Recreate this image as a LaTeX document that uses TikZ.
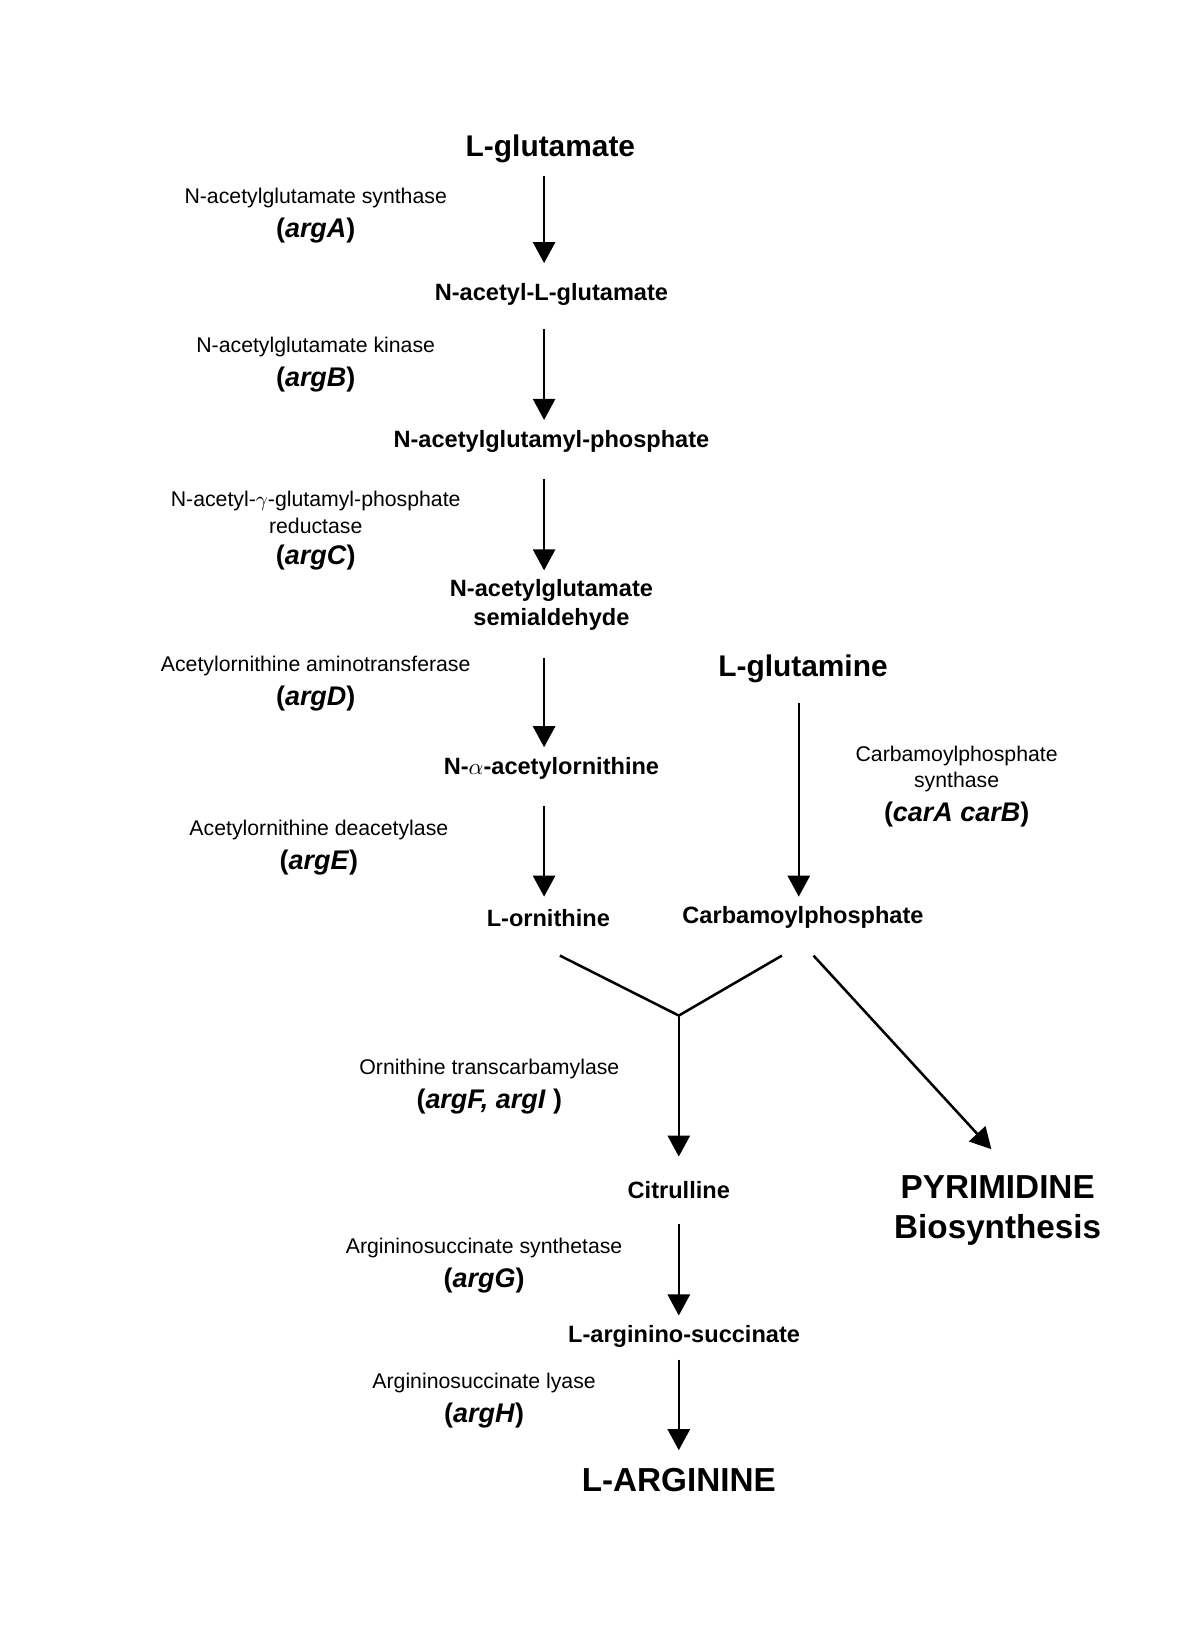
\documentclass[tikz,border=0pt]{standalone}
\usepackage{fontspec}
\setmainfont{Liberation Sans}
\usetikzlibrary{arrows.meta}
\begin{document}
\begin{tikzpicture}[x=0.5pt,y=-0.5pt,
  big/.style={font=\fontsize{14.2}{17}\selectfont\bfseries},
  mid/.style={font=\fontsize{11.2}{14}\selectfont\bfseries,align=center},
  enz/.style={font=\fontsize{10.1}{12.5}\selectfont,align=center},
  gene/.style={font=\fontsize{12.8}{14}\selectfont\bfseries},
  huge/.style={font=\fontsize{15.8}{19}\selectfont\bfseries,align=center},
  rx/.style={line width=1.2pt,-{Triangle[length=10pt,width=10.5pt]}},
  ln/.style={line width=1.2pt}]
\useasboundingbox (0,0) rectangle (1140,1565);
\node[big] (glu) at (523,141) {L-glutamate};
\node[mid] (nag) at (524,280) {N-acetyl-L-glutamate};
\node[mid] (nagp) at (524,419) {N-acetylglutamyl-phosphate};
\node[mid] (nags) at (524,575) {N-acetylglutamate\\semialdehyde};
\node[mid] (nao) at (524,730) {N-$\alpha$-acetylornithine};
\node[mid] (orn) at (521,872) {L-ornithine};
\node[big] (gln) at (763,636) {L-glutamine};
\node[mid] (cp) at (763,872) {Carbamoylphosphate};
\node[mid] (cit) at (645,1131) {Citrulline};
\node[mid] (as) at (650,1270) {L-arginino-succinate};
\node[huge] (arg) at (645,1406) {L-ARGININE};
\node[huge] (pyr) at (948,1150) {PYRIMIDINE\\Biosynthesis};

\node[enz] (e1) at (300,188) {N-acetylglutamate synthase};
\node[gene] (g1) at (300,219) {(\textit{argA})};
\node[enz] (e2) at (300,330) {N-acetylglutamate kinase};
\node[gene] (g2) at (300,361) {(\textit{argB})};
\node[enz] (e3) at (300,487) {N-acetyl-$\gamma$-glutamyl-phosphate\\reductase};
\node[gene] (g3) at (300,530) {(\textit{argC})};
\node[enz] (e4) at (300,633) {Acetylornithine aminotransferase};
\node[gene] (g4) at (300,664) {(\textit{argD})};
\node[enz] (e5) at (303,789) {Acetylornithine deacetylase};
\node[gene] (g5) at (303,820) {(\textit{argE})};
\node[enz] (e6) at (909,731) {Carbamoylphosphate\\synthase};
\node[gene] (g6) at (909,774) {(\textit{carA carB})};
\node[enz] (e7) at (465,1016) {Ornithine transcarbamylase};
\node[gene] (g7) at (465,1047) {(\textit{argF, argI} )};
\node[enz] (e8) at (460,1186) {Argininosuccinate synthetase};
\node[gene] (g8) at (460,1217) {(\textit{argG})};
\node[enz] (e9) at (460,1314) {Argininosuccinate lyase};
\node[gene] (g9) at (460,1345) {(\textit{argH})};

\coordinate (a1) at (517,167); \coordinate (b1) at (517,250);
\coordinate (a2) at (517,313); \coordinate (b2) at (517,399);
\coordinate (a3) at (517,455); \coordinate (b3) at (517,542);
\coordinate (a4) at (517,625); \coordinate (b4) at (517,710);
\coordinate (a5) at (517,766); \coordinate (b5) at (517,852);
\coordinate (a6) at (759,668); \coordinate (b6) at (759,852);
\coordinate (l1) at (532,908); \coordinate (j) at (645,965); \coordinate (r1) at (743,908);
\coordinate (b7) at (645,1099);
\coordinate (p1) at (773,908); \coordinate (p2) at (942,1092);
\coordinate (a8) at (645,1163); \coordinate (b8) at (645,1250);
\coordinate (a9) at (645,1292); \coordinate (b9) at (645,1378);
\draw[rx] (a1) -- (b1);
\draw[rx] (a2) -- (b2);
\draw[rx] (a3) -- (b3);
\draw[rx] (a4) -- (b4);
\draw[rx] (a5) -- (b5);
\draw[rx] (a6) -- (b6);
\draw[ln] (l1) -- (j) -- (r1);
\draw[rx] (j) -- (b7);
\draw[rx] (p1) -- (p2);
\draw[rx] (a8) -- (b8);
\draw[rx] (a9) -- (b9);
\end{tikzpicture}
\end{document}
